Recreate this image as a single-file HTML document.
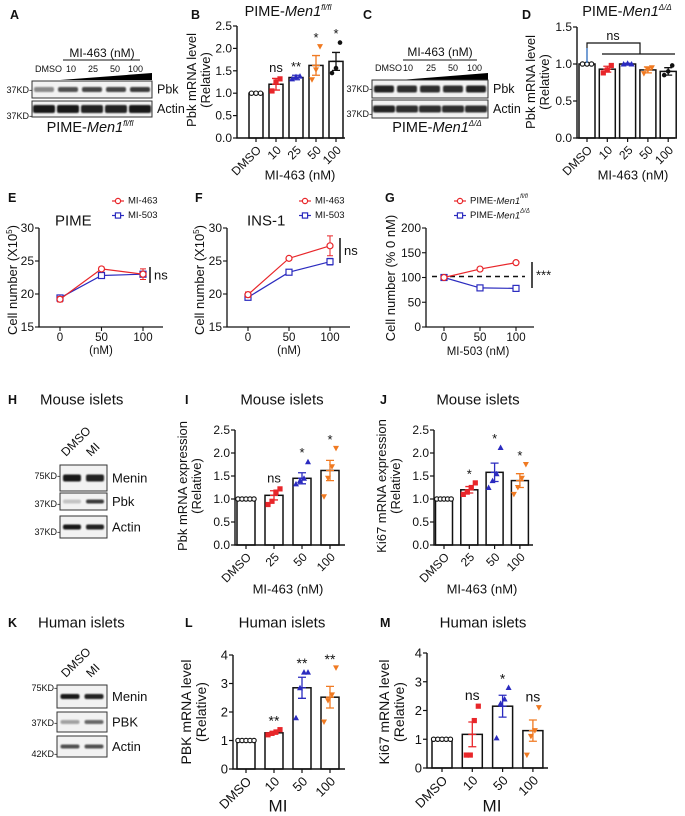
<!DOCTYPE html>
<html><head><meta charset="utf-8"><style>
html,body{margin:0;padding:0;background:#fff;}
svg{display:block;font-family:"Liberation Sans",Arial,sans-serif;}
</style></head><body>
<svg id="fig" xmlns="http://www.w3.org/2000/svg" width="685" height="816" viewBox="0 0 685 816">
<defs><filter id="blur" x="-20%" y="-50%" width="140%" height="200%"><feGaussianBlur stdDeviation="0.9"/></filter></defs>
</svg>
<script>
// ---------- DATA ----------
const bCats=['DMSO','10','25','50','100'];
const bMeans=[1,1.2,1.35,1.62,1.71];
const bErrs=[0,0.13,0.05,0.22,0.2];
const bPts=[[1,1,1],[1.05,1.25,1.32],[1.32,1.37,1.38],[1.3,1.52,2.04],[1.45,1.56,2.13]];
const bSig=['','ns','**','*','*'];

const dCats=['DMSO','10','25','50','100'];
const dMeans=[1,0.93,1.0,0.92,0.9];
const dErrs=[0,0.04,0.01,0.04,0.05];
const dPts=[[1,1,1],[0.88,0.92,0.98],[1.0,1.01,1.0],[0.87,0.92,0.95],[0.85,0.9,0.98]];

const lineX=[0,50,100];
const eRed=[19.2,23.8,23.0];
const eRedErr=[0.4,0.3,0.8];
const eBlue=[19.4,22.8,23.0];
const eBlueErr=[0.4,0.3,0.4];
const fRed=[19.9,25.4,27.3];
const fRedErr=[0.4,0.2,1.5];
const fBlue=[19.5,23.3,24.9];
const fBlueErr=[0.3,0.2,0.5];
const gRed=[100,117,130];
const gBlue=[100,79,78];

const iCats=['DMSO','25','50','100'];
const iMeans=[1,1.08,1.45,1.62];
const iErrs=[0,0.1,0.12,0.22];
const iPts=[[1,1,1,1,1],[0.88,0.95,1.15,1.22],[1.33,1.4,1.45,1.81],[1.05,1.45,1.7,2.1]];
const iSig=['','ns','*','*'];

const jCats=['DMSO','25','50','100'];
const jMeans=[1,1.2,1.58,1.4];
const jErrs=[0,0.07,0.2,0.15];
const jPts=[[1,1,1,1,1],[1.1,1.15,1.25,1.35],[1.25,1.4,1.55,2.12],[1.1,1.25,1.45,1.75]];
const jSig=['','*','*','*'];

const lCats=['DMSO','10','50','100'];
const lMeans=[1,1.27,2.85,2.52];
const lErrs=[0,0.05,0.37,0.38];
const lPts=[[1,1,1,1,1],[1.2,1.25,1.3,1.38],[1.8,2.85,3.4,3.4],[1.65,2.4,2.6,3.55]];
const lSig=['','**','**','**'];

const mCats=['DMSO','10','50','100'];
const mMeans=[1,1.17,2.15,1.3];
const mErrs=[0,0.43,0.38,0.37];
const mPts=[[1,1,1,1,1],[0.45,0.45,1.65,2.15],[1.05,2.25,2.4,2.8],[0.45,1.1,1.3,2.1]];
const mSig=['','ns','*','ns'];

// ---------- HELPERS ----------
const NS='http://www.w3.org/2000/svg';
const svg=document.getElementById('fig');
function el(tag,attrs,parent){const e=document.createElementNS(NS,tag);for(const k in attrs)e.setAttribute(k,attrs[k]);(parent||svg).appendChild(e);return e;}
function txt(s,x,y,size,parent,extra){const t=el('text',Object.assign({x:x,y:y,'font-size':size,fill:'#111','dominant-baseline':'central'},extra||{}),parent);t.innerHTML=s;return t;}
const RED='#e8262a',BLUE='#2b2bbf',ORANGE='#f07a22',BLK='#111';

function marker(type,cx,cy,color,parent){
  let m;
  if(type==='oc'){m=el('circle',{cx:cx,cy:cy,r:2.2,fill:'#fff',stroke:BLK,'stroke-width':1.1},parent);}
  else if(type==='sq'){m=el('rect',{x:cx-2.6,y:cy-2.6,width:5.2,height:5.2,fill:color},parent);}
  else if(type==='tri'){m=el('polygon',{points:`${cx},${cy-3} ${cx-3},${cy+2.5} ${cx+3},${cy+2.5}`,fill:color},parent);}
  else if(type==='itri'){m=el('polygon',{points:`${cx},${cy+3} ${cx-3},${cy-2.5} ${cx+3},${cy-2.5}`,fill:color},parent);}
  else {m=el('circle',{cx:cx,cy:cy,r:2.3,fill:color},parent);}
  
  
}

function barChart(o,cats,means,errs,pts,sigs){
  const g=el('g',{});
  
  
  const y=v=>o.y0-(v/o.yMax)*(o.y0-o.yTop);
  const x=i=>o.ax+o.off+i*o.step;
  // bars
  cats.forEach((c,i)=>{
    const b=el('rect',{x:x(i)-o.w/2,y:y(means[i]),width:o.w,height:o.y0-y(means[i]),fill:'#fff',stroke:BLK,'stroke-width':1.5},g);
    
    
  });
  // points & error bars
  cats.forEach((c,i)=>{
    const col=o.colors[i];
    const n=pts[i].length;const sp=i===0?o.dsp:4;
    pts[i].forEach((v,k)=>{marker(o.markers[i],x(i)-sp*(n-1)/2+k*sp,y(v),col,g);});
    if(errs[i]>0){
      const e=el('path',{d:`M${x(i)},${y(means[i]-errs[i])}V${y(means[i]+errs[i])}M${x(i)-4},${y(means[i]-errs[i])}h8M${x(i)-4},${y(means[i]+errs[i])}h8M${x(i)-4},${y(means[i])}h8`,stroke:col,'stroke-width':1.3,fill:'none'},g);
      
      
    }
    if(sigs&&sigs[i]){
      const top=Math.max(means[i]+errs[i],...pts[i]);
      const s=txt(sigs[i],x(i),y(top)-(sigs[i]==='ns'?11:9),sigs[i]==='ns'?o.fs+1:o.fs+1,g,{'text-anchor':'middle'});
      
      
    }
  });
  // axes
  const ya=el('path',{d:`M${o.ax},${o.yTop}V${o.y0}H${o.axEnd}`,stroke:BLK,'stroke-width':1.4,fill:'none'},g);
  
  
  o.ticks.forEach(t=>{
    el('line',{x1:o.ax-4,x2:o.ax,y1:y(t),y2:y(t),stroke:BLK,'stroke-width':1.2},g);
    const tl=txt(o.fmt(t),o.ax-5,y(t),o.fs,g,{'text-anchor':'end'});
    
    
  });
  cats.forEach((c,i)=>{
    el('line',{x1:x(i),x2:x(i),y1:o.y0,y2:o.y0+4,stroke:BLK,'stroke-width':1.2},g);
    const tl=el('text',{x:x(i)+3,y:o.y0+10,'font-size':o.fs,'text-anchor':'end','dominant-baseline':'central',fill:'#111',transform:`rotate(-45 ${x(i)+3} ${o.y0+10})`},g);
    tl.textContent=c;
    
    
  });
  const yt=el('text',{transform:`translate(${o.ytx},${o.yty}) rotate(-90)`,'font-size':o.fs+1,'text-anchor':'middle',fill:'#111'},g);
  yt.innerHTML=`<tspan x="0" dy="0">${o.yt1}</tspan><tspan x="0" dy="${o.fs+2}">(Relative)</tspan>`;
  
  
  const xt=txt(o.xt,o.xtx,o.xty,o.xts||o.fs+1,g,{'text-anchor':'middle'});
  
  
}

function lineChart(o,series){
  const g=el('g',{});
  
  
  const y=v=>o.y0-(v-o.yMin)/(o.yMax-o.yMin)*(o.y0-o.yTop);
  const x=v=>o.x0+v/100*(o.x100-o.x0);
  const ax=el('path',{d:`M${o.ax},${o.yTop}V${o.y0}H${o.axEnd}`,stroke:BLK,'stroke-width':1.3,fill:'none'},g);
  
  
  o.ticks.forEach(t=>{
    el('line',{x1:o.ax-4,x2:o.ax,y1:y(t),y2:y(t),stroke:BLK,'stroke-width':1.1},g);
    const tl=txt(String(t),o.ax-5,y(t),12,g,{'text-anchor':'end'});
    
    
  });
  lineX.forEach(v=>{
    el('line',{x1:x(v),x2:x(v),y1:o.y0,y2:o.y0+4,stroke:BLK,'stroke-width':1.1},g);
    const tl=txt(String(v),x(v),o.y0+11,11.5,g,{'text-anchor':'middle'});
    
    
  });
  if(o.dash){
    const d=el('line',{x1:o.dash[0],x2:o.dash[1],y1:y(o.dashV),y2:y(o.dashV),stroke:BLK,'stroke-width':1.4,'stroke-dasharray':'5,4'},g);
    
    
  }
  series.forEach(s=>{
    const p=el('polyline',{points:s.v.map((v,i)=>`${x(lineX[i])},${y(v)}`).join(' '),fill:'none',stroke:s.c,'stroke-width':1.2},g);
    
    
    s.v.forEach((v,i)=>{
      const cx=x(lineX[i]),cy=y(v);
      if(s.e&&s.e[i]>0){el('path',{d:`M${cx},${y(v-s.e[i])}V${y(v+s.e[i])}M${cx-3},${y(v-s.e[i])}h6M${cx-3},${y(v+s.e[i])}h6`,stroke:s.c,'stroke-width':1},g);}
      let m;
      if(s.m==='c')m=el('circle',{cx:cx,cy:cy,r:3,fill:'#fff',stroke:s.c,'stroke-width':1.2},g);
      else m=el('rect',{x:cx-3,y:cy-3,width:6,height:6,fill:'#fff',stroke:s.c,'stroke-width':1.2},g);
      
      
    });
  });
  const sb=el('line',{x1:o.sig[0],x2:o.sig[0],y1:o.sig[1],y2:o.sig[2],stroke:BLK,'stroke-width':1.5},g);
  
  
  const st=txt(o.sigT,o.sig[0]+4,(o.sig[1]+o.sig[2])/2,13,g);
  
  
  const yt=el('text',{transform:`translate(${o.ytx},${o.yty}) rotate(-90)`,'font-size':13,'text-anchor':'middle',fill:'#111'},g);
  yt.innerHTML=o.ytHTML;
  
  
  const xt=txt(o.xt,o.xtx,o.xty,11.5,g,{'text-anchor':'middle'});
  
  
  o.legend.forEach((l,i)=>{
    const ly=201+i*14.5;
    el('line',{x1:l.x-6,x2:l.x+6,y1:ly,y2:ly,stroke:l.c,'stroke-width':1.2},g);
    let m;
    if(l.m==='c')m=el('circle',{cx:l.x,cy:ly,r:2.6,fill:'#fff',stroke:l.c,'stroke-width':1.2},g);
    else m=el('rect',{x:l.x-2.6,y:ly-2.6,width:5.2,height:5.2,fill:'#fff',stroke:l.c,'stroke-width':1.2},g);
    
    
    const t=txt(l.t,l.x+10,ly,9.5,g);
    
    
  });
  if(o.title){const t=txt(o.title,o.titleX,221,15,g);}
}

function panelLabel(s,x,y){const t=txt(s,x,y,12.5,svg,{'font-weight':'bold'});}
function title(html,x,y,size,anchor){const t=txt(html,x,y,size,svg,{'text-anchor':anchor||'middle'});return t;}

function blot(name,bx,bw,lanes,rows,g0){
  const g=el('g',{});
  
  
  rows.forEach(r=>{
    const box=el('rect',{x:bx,y:r.y,width:bw,height:r.h,fill:'#f2f2f2',stroke:'#333','stroke-width':1},g);
    
    
    lanes.forEach((lx,i)=>{
      const op=r.ops[i];
      el('rect',{x:lx-r.bw/2,y:r.y+r.h/2-r.bh/2,width:r.bw,height:r.bh,rx:2,fill:'#111',opacity:op,filter:'url(#blur)'},g);
    });
    const l=txt(r.label,bx+bw+5,r.y+r.h/2,r.fs||12.5,g);
    
    
  });
}
function kd(s,x,y){const t=txt(s+'-',x,y,9,svg,{'text-anchor':'end'});}

// ---------- PANEL A ----------
panelLabel('A',10,15);
title('MI-463 (nM)',102,53,12);
el('line',{x1:63,x2:140,y1:60,y2:60,stroke:BLK,'stroke-width':1});
[['DMSO',35],['10',66],['25',88],['50',110],['100',128]].forEach(a=>{const t=txt(a[0],a[1],69,9,svg);});
const wA=el('polygon',{points:'60,80 152,73 152,80',fill:'#000'});


blot('blot-a',32,120,[44,68,92,116,140],[{y:81,h:17,bw:20,bh:5,ops:[0.45,0.7,0.75,0.75,0.8],label:'Pbk'},{y:101,h:16,bw:22,bh:8,ops:[0.95,0.95,0.9,0.9,0.95],label:'Actin'}]);
kd('37KD',32,90);kd('37KD',32,116);
title('PIME-<tspan font-style="italic">Men1</tspan><tspan font-size="8" dy="-5" font-style="italic">fl/fl</tspan>',90,128,14.5);

// ---------- PANEL B ----------
panelLabel('B',191,15);
title('PIME-<tspan font-style="italic">Men1</tspan><tspan font-size="8" dy="-5" font-style="italic">fl/fl</tspan>',288,12,14.5);
barChart({name:'chart-b',ax:237,axEnd:345,y0:138,yTop:26,yMax:2.5,off:19,step:20,w:14,dsp:4.5,fs:12,ticks:[0,0.5,1,1.5,2,2.5],fmt:t=>t.toFixed(1),
  colors:[BLK,RED,BLUE,ORANGE,BLK],markers:['oc','sq','tri','itri','dot'],ytx:196,yty:80,yt1:'Pbk mRNA level',xt:'MI-463 (nM)',xtx:300,xty:175},bCats,bMeans,bErrs,bPts,bSig);

// ---------- PANEL C ----------
panelLabel('C',363,15);
title('MI-463 (nM)',440,52,12);
el('line',{x1:403,x2:477,y1:60,y2:60,stroke:BLK,'stroke-width':1});
[['DMSO',375],['10',403],['25',426],['50',448],['100',467]].forEach(a=>{const t=txt(a[0],a[1],68,9,svg);});
const wC=el('polygon',{points:'400,80 488,73 488,80',fill:'#000'});


blot('blot-c',372,116,[384,407,430,453,476],[{y:80,h:18,bw:20,bh:7,ops:[0.9,0.85,0.85,0.85,0.9],label:'Pbk'},{y:100,h:18,bw:22,bh:7,ops:[0.9,0.85,0.85,0.85,0.85],label:'Actin'}]);
kd('37KD',372,89);kd('37KD',372,114);
title('PIME-<tspan font-style="italic">Men1</tspan><tspan font-size="8" dy="-5" font-style="italic">Δ/Δ</tspan>',437,128,14.5);

// ---------- PANEL D ----------
panelLabel('D',522,15);
title('PIME-<tspan font-style="italic">Men1</tspan><tspan font-size="8" dy="-5" font-style="italic">Δ/Δ</tspan>',627,12,14.5);
barChart({name:'chart-d',ax:577,axEnd:675,y0:138,yTop:27,yMax:1.5,off:10,step:20.3,w:16,dsp:4.5,fs:12,ticks:[0,0.5,1,1.5],fmt:t=>t.toFixed(1),
  colors:[BLK,RED,BLUE,ORANGE,BLK],markers:['oc','sq','tri','itri','dot'],ytx:535,yty:82,yt1:'Pbk mRNA level',xt:'MI-463 (nM)',xtx:633,xty:175},dCats,dMeans,dErrs,dPts,null);
const br=el('path',{d:'M602,54H675M640,54V43H587V63',stroke:BLK,'stroke-width':1.2,fill:'none'});


el('line',{x1:587,x2:587,y1:48,y2:63,stroke:'#3a7fd8','stroke-width':1.2});
const nsD=txt('ns',613,36,12.5,svg,{'text-anchor':'middle'});



// ---------- PANELS E F G ----------
panelLabel('E',8,198);
lineChart({name:'chart-e',ax:39,axEnd:163,y0:327,yTop:228,yMin:15,yMax:30,ticks:[15,20,25,30],x0:60,x100:143,
  sig:[150,267,283],sigT:'ns',ytx:17,yty:280,ytHTML:'Cell number (X10<tspan font-size="8" dy="-5">5</tspan><tspan dy="5">)</tspan>',xt:'(nM)',xtx:101,xty:351,
  legend:[{x:118,c:RED,m:'c',t:'MI-463'},{x:118,c:BLUE,m:'s',t:'MI-503'}],title:'PIME',titleX:55},
  [{v:eBlue,e:eBlueErr,c:BLUE,m:'s'},{v:eRed,e:eRedErr,c:RED,m:'c'}]);
panelLabel('F',195,198);
lineChart({name:'chart-f',ax:227,axEnd:350,y0:327,yTop:228,yMin:15,yMax:30,ticks:[15,20,25,30],x0:248,x100:330,
  sig:[340,238,263],sigT:'ns',ytx:204,yty:280,ytHTML:'Cell number (X10<tspan font-size="8" dy="-5">5</tspan><tspan dy="5">)</tspan>',xt:'(nM)',xtx:289,xty:351,
  legend:[{x:305,c:RED,m:'c',t:'MI-463'},{x:305,c:BLUE,m:'s',t:'MI-503'}],title:'INS-1',titleX:247},
  [{v:fBlue,e:fBlueErr,c:BLUE,m:'s'},{v:fRed,e:fRedErr,c:RED,m:'c'}]);
panelLabel('G',385,198);
lineChart({name:'chart-g',ax:426,axEnd:534,y0:327,yTop:228,yMin:0,yMax:200,ticks:[0,50,100,150,200],x0:444,x100:516,dash:[432,525],dashV:102,
  sig:[532,262,288],sigT:'***',ytx:395,yty:278,ytHTML:'Cell number (% 0 nM)',xt:'MI-503 (nM)',xtx:478,xty:352,
  legend:[{x:460,c:RED,m:'c',t:'PIME-<tspan font-style="italic">Men1</tspan><tspan font-size="6" dy="-4" font-style="italic">fl/fl</tspan>'},{x:460,c:BLUE,m:'s',t:'PIME-<tspan font-style="italic">Men1</tspan><tspan font-size="6" dy="-4" font-style="italic">Δ/Δ</tspan>'}]},
  [{v:gBlue,c:BLUE,m:'s'},{v:gRed,c:RED,m:'c'}]);

// ---------- PANEL H ----------
panelLabel('H',8,400);
title('Mouse islets',40,400,15,'start');
[['DMSO',66],['MI',91]].forEach(a=>{const t=el('text',{x:a[1],y:457,'font-size':12,fill:'#111',transform:`rotate(-45 ${a[1]} 457)`});t.textContent=a[0];});
blot('blot-h',60,47,[72,95],[{y:465,h:26,bw:18,bh:7,ops:[0.95,0.9],label:'Menin',fs:13},{y:493,h:17,bw:18,bh:4,ops:[0.2,0.8],label:'Pbk',fs:13},{y:516,h:22,bw:18,bh:5,ops:[0.95,0.9],label:'Actin',fs:13}]);
kd('75KD',60,476);kd('37KD',60,504);kd('37KD',60,532);

// ---------- PANEL I ----------
panelLabel('I',185,400);
title('Mouse islets',282,400,15);
barChart({name:'chart-i',ax:235,axEnd:345,y0:545,yTop:430,yMax:2.5,off:11,step:28,w:18,dsp:4,fs:12,ticks:[0,0.5,1,1.5,2,2.5],fmt:t=>t.toFixed(1),
  colors:[BLK,RED,BLUE,ORANGE],markers:['oc','sq','tri','itri'],ytx:187,yty:486,yt1:'Pbk mRNA expression',xt:'MI-463 (nM)',xtx:288,xty:589},iCats,iMeans,iErrs,iPts,iSig);

// ---------- PANEL J ----------
panelLabel('J',380,400);
title('Mouse islets',478,400,15);
barChart({name:'chart-j',ax:434,axEnd:533,y0:545,yTop:430,yMax:2.5,off:10,step:25.3,w:17,dsp:3.6,fs:12,ticks:[0,0.5,1,1.5,2,2.5],fmt:t=>t.toFixed(1),
  colors:[BLK,RED,BLUE,ORANGE],markers:['oc','sq','tri','itri'],ytx:386,yty:486,yt1:'Ki67 mRNA expression',xt:'MI-463 (nM)',xtx:482,xty:589},jCats,jMeans,jErrs,jPts,jSig);

// ---------- PANEL K ----------
panelLabel('K',8,623);
title('Human islets',38,623,15,'start');
[['DMSO',66],['MI',91]].forEach(a=>{const t=el('text',{x:a[1],y:678,'font-size':12,fill:'#111',transform:`rotate(-45 ${a[1]} 678)`});t.textContent=a[0];});
blot('blot-k',57,50,[70,94],[{y:685,h:23,bw:19,bh:5,ops:[0.95,0.9],label:'Menin',fs:13},{y:712,h:20,bw:19,bh:4,ops:[0.35,0.6],label:'PBK',fs:13},{y:736,h:21,bw:19,bh:4,ops:[0.7,0.7],label:'Actin',fs:13}]);
kd('75KD',57,688);kd('37KD',57,723);kd('42KD',57,754);

// ---------- PANEL L ----------
panelLabel('L',185,623);
title('Human islets',282,623,15);
barChart({name:'chart-l',ax:233,axEnd:345,y0:769,yTop:655,yMax:4,off:13,step:28,w:18,dsp:4,fs:13,ticks:[0,1,2,3,4],fmt:t=>String(t),
  colors:[BLK,RED,BLUE,ORANGE],markers:['oc','sq','tri','itri'],ytx:191,yty:712,yt1:'PBK mRNA level',xt:'MI',xtx:278,xty:806,xts:17},lCats,lMeans,lErrs,lPts,lSig);

// ---------- PANEL M ----------
panelLabel('M',380,623);
title('Human islets',483,623,15);
barChart({name:'chart-m',ax:427,axEnd:548,y0:768,yTop:653,yMax:4,off:15,step:30.3,w:20,dsp:4.2,fs:13,ticks:[0,1,2,3,4],fmt:t=>String(t),
  colors:[BLK,RED,BLUE,ORANGE],markers:['oc','sq','tri','itri'],ytx:389,yty:712,yt1:'Ki67 mRNA level',xt:'MI',xtx:492,xty:806,xts:17},mCats,mMeans,mErrs,mPts,mSig);
</script>
</body></html>
